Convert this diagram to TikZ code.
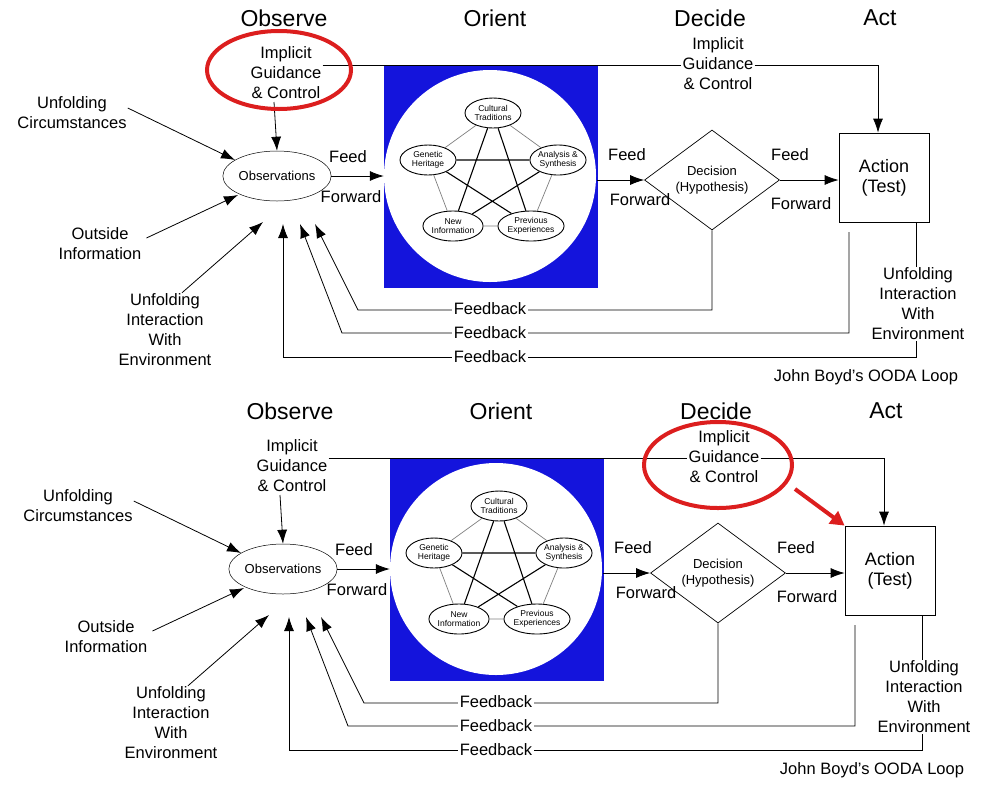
\documentclass[tikz,border=0pt]{standalone}
\usepackage{fontspec}
\setmainfont{Liberation Sans}
\usetikzlibrary{shapes.geometric,arrows.meta}
\definecolor{sqblue}{RGB}{20,20,220}
\definecolor{redc}{RGB}{220,30,30}
\tikzset{
  ttl/.style={font=\fontsize{23}{26}\selectfont},
  lbl/.style={font=\fontsize{16.5}{20}\selectfont,align=center,inner sep=1pt},
  fb/.style={font=\fontsize{16.5}{19}\selectfont,fill=white,inner sep=2pt},
  arr/.style={-{Latex[length=14pt,width=10pt]},line width=0.8pt},
  ln/.style={line width=0.7pt},
  inel/.style={ellipse,draw,line width=0.9pt,minimum width=56pt,minimum height=30pt,inner sep=0pt,align=center,font=\fontsize{8.5}{9.5}\selectfont},
  redring/.style={draw=redc,line width=4pt},
}
\newcommand\oodadiag[2]{%
\node[ttl] (#1tO) at (284,18) {Observe};
\node[ttl] (#1tR) at (495,18) {Orient};
\node[ttl] (#1tD) at (710,18) {Decide};
\node[ttl] (#1tA) at (880,18) {Act};
\node[lbl] (#1igL) at (286,73) {Implicit\\Guidance\\\& Control};
\node[lbl] (#1igR) at (718,64) {Implicit\\Guidance\\\& Control};
\node[ellipse,draw,line width=0.5pt,minimum width=100pt,minimum height=50pt,inner sep=0pt,font=\fontsize{13}{15}\selectfont] (#1obs) at (277,176) {Observations};
\node[lbl] (#1uc) at (72,113) {Unfolding\\Circumstances};
\node[lbl] (#1oi) at (100,244) {Outside\\Information};
\node[lbl] (#1ui) at (165,330) {Unfolding\\Interaction\\With\\Environment};
\node[lbl] (#1ui2) at (918,304) {Unfolding\\Interaction\\With\\Environment};
\node[draw=sqblue,fill=sqblue,minimum width=213pt,minimum height=222pt,inner sep=0pt] (#1sq) at (490.5,176) {};
\node[circle,fill=white,minimum size=212pt,inner sep=0pt] (#1circ) at (490,176) {};
\node[inel] (#1ct) at (493,113) {Cultural\\Traditions};
\node[inel] (#1gh) at (428,160) {Genetic\\Heritage};
\node[inel] (#1as) at (558,160) {Analysis \&\\Synthesis};
\node[inel] (#1ni) at (453,226) {New\\Information};
\node[inel] (#1pe) at (531,226) {Previous\\Experiences};
\draw[gray,line width=0.7pt] (#1ct)--(#1as)--(#1pe)--(#1ni)--(#1gh)--(#1ct);
\draw[line width=1.1pt] (#1ct)--(#1ni) (#1ct)--(#1pe) (#1gh)--(#1as) (#1gh)--(#1pe) (#1as)--(#1ni);
\node[diamond,draw,line width=0.7pt,minimum width=135pt,minimum height=100pt,inner sep=0pt,aspect=1.35,align=center,font=\fontsize{13}{15.5}\selectfont] (#1dec) at (712,180) {Decision\\(Hypothesis)};
\node[draw,line width=0.8pt,minimum width=90pt,minimum height=89pt,align=center,font=\fontsize{18}{20}\selectfont] (#1act) at (884,177.5) {Action\\(Test)};
% arrows
\coordinate (#1c) at (274,102);
\draw[arr] (#1c) -- (#1obs.north);
\draw[ln] (#1igL.east |- 0,65) coordinate (#1a) -- (#1igR.west |- #1a);
\coordinate (#1b) at (878,65);
\draw[ln] (#1igR.east |- #1a) -- (#1b);
\draw[arr] (#1b) -- (#1b |- #1act.north);
\draw[arr] (#1uc.east) ++(0,-5) -- (235,160);
\draw[arr] (#1oi.east) ++(4,-6) -- (238,195);
\draw[arr] (#1ui.north) ++(17,0) -- (263,222);
\draw[arr] (#1obs.east) -- (#1sq.west |- #1obs.east);
\draw[arr] (#1sq.east |- 0,180) -- (#1dec.west);
\draw[arr] (#1dec.east) -- (#1act.west |- #1dec.east);
\node[lbl] (#1f1) at (348,157) {Feed};
\node[lbl] (#1w1) at (351,197) {Forward};
\node[lbl] (#1f2) at (627,155) {Feed};
\node[lbl] (#1w2) at (640,200) {Forward};
\node[lbl] (#1f3) at (790,155) {Feed};
\node[lbl] (#1w3) at (801,204) {Forward};
% feedback
\draw[arr] (#1dec.south) |- (358,310) -- (315,224);
\draw[arr] (849,232) |- (342,333) -- (300,224);
\draw[ln] (#1act.south -| 916,0) -- (#1ui2.north -| 916,0);
\draw[arr] (#1ui2.south -| 916,0) |- (283,357) -- (283,224);
\node[fb] (#1fb1) at (490,309) {Feedback};
\node[fb] (#1fb2) at (490,333) {Feedback};
\node[fb] (#1fb3) at (490,357) {Feedback};
\node[lbl] (#1jb) at (866,377) {John Boyd's OODA Loop};
#2
}
\begin{document}
\begin{tikzpicture}[x=1pt,y=-1pt]
\useasboundingbox (0,0) rectangle (998,788);
\begin{scope}
\oodadiag{t}{\draw[redring] (279,70) ellipse [x radius=72pt,y radius=39pt];}
\end{scope}
\begin{scope}[shift={(6,393)}]
\oodadiag{b}{\draw[redring] (712,72) ellipse [x radius=74pt,y radius=43pt];
\coordinate (bra) at (789,96);
\draw[redc,line width=4pt,-{Triangle[length=14pt,width=15pt]}] (bra) -- (bact.north west);}
\end{scope}
\end{tikzpicture}
\end{document}
